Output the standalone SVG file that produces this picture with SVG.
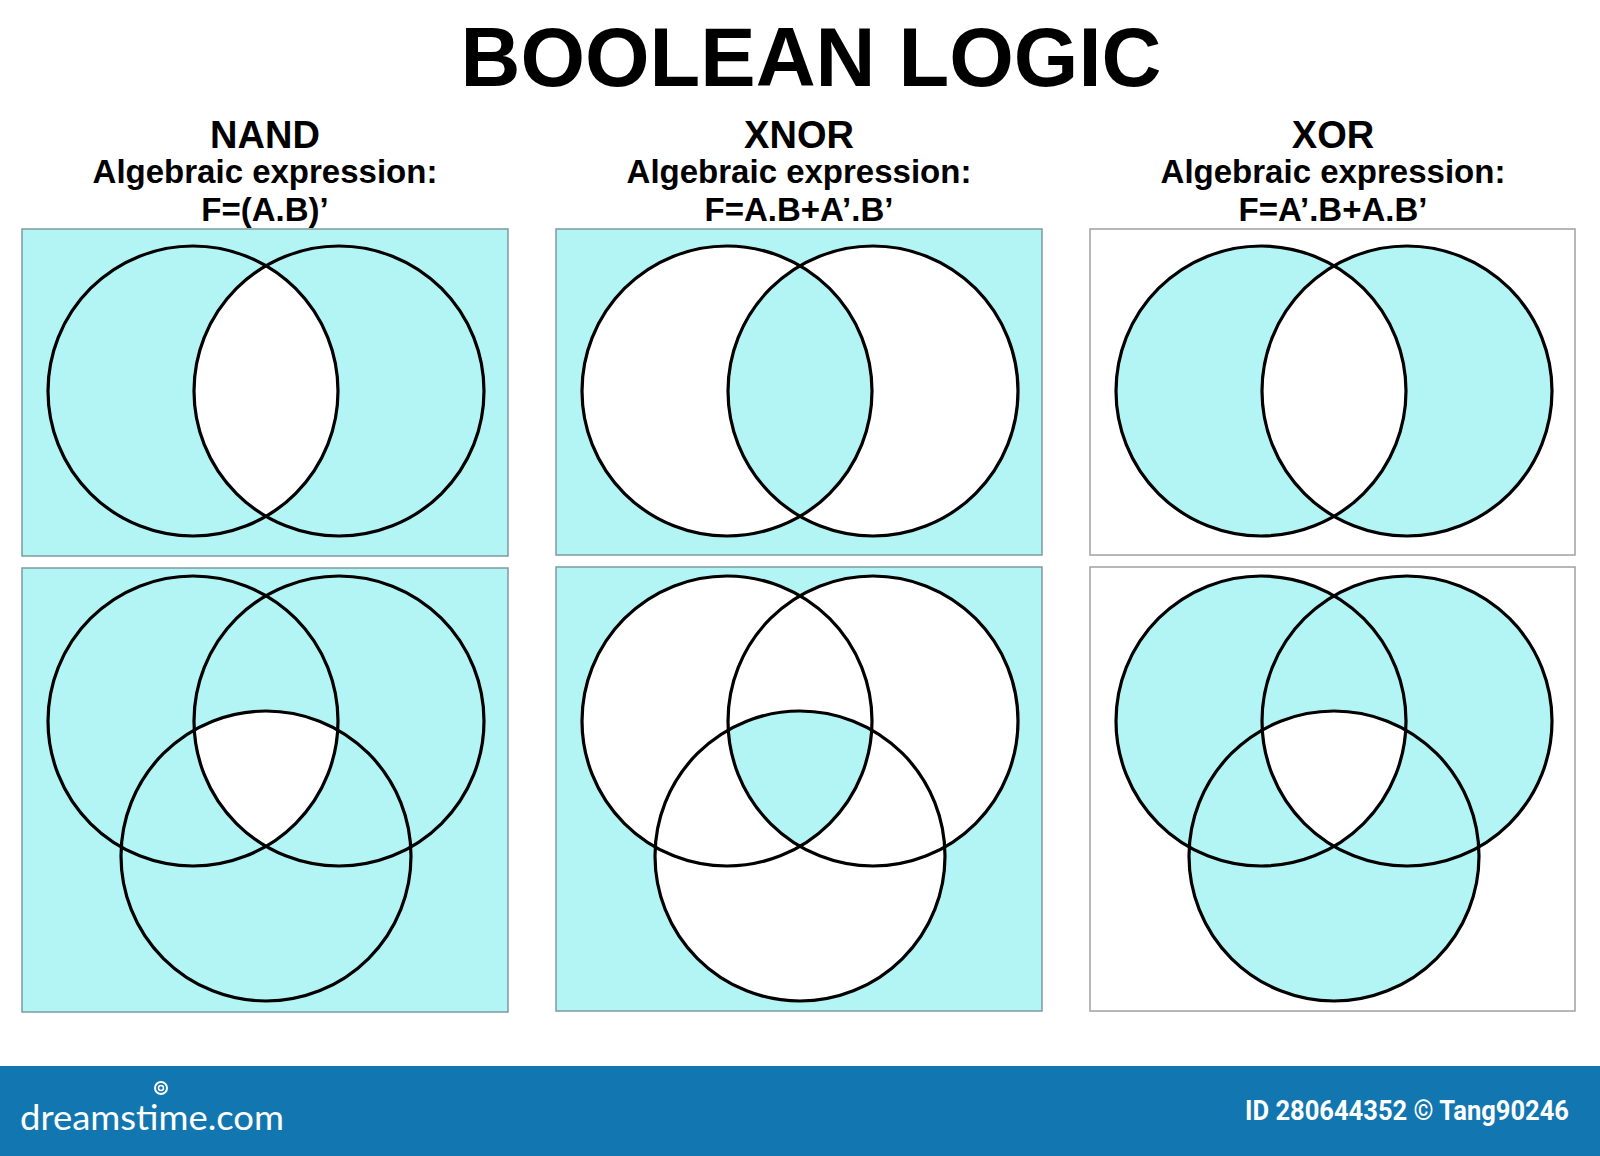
<svg xmlns="http://www.w3.org/2000/svg" width="1600" height="1156" viewBox="0 0 1600 1156">
<style>
.t{font-family:"Liberation Sans",Arial,sans-serif;font-weight:bold;fill:#000;text-anchor:middle}
.h1{font-size:83px}
.h2{font-size:38px}
.h3{font-size:33px}
.pc{fill:#b3f4f4;stroke:#7c9aa0;stroke-width:1.5}
.pw{fill:#fff;stroke:#a0a0a0;stroke-width:1.5}
.c{fill:#b3f4f4}
.w{fill:#fff}
.o{fill:none;stroke:#000;stroke-width:3.2}
</style>
<defs>
<clipPath id="n2a"><circle cx="193" cy="391" r="145"/></clipPath>
<clipPath id="n3a"><circle cx="193" cy="721" r="145"/></clipPath>
<clipPath id="n3b"><circle cx="339" cy="721" r="145"/></clipPath>
<clipPath id="x2a"><circle cx="727" cy="391" r="145"/></clipPath>
<clipPath id="x3a"><circle cx="727" cy="721" r="145"/></clipPath>
<clipPath id="x3b"><circle cx="873" cy="721" r="145"/></clipPath>
<clipPath id="o2a"><circle cx="1261" cy="391" r="145"/></clipPath>
<clipPath id="o3a"><circle cx="1261" cy="721" r="145"/></clipPath>
<clipPath id="o3b"><circle cx="1407" cy="721" r="145"/></clipPath>
</defs>
<rect width="1600" height="1156" fill="#fff"/>
<text class="t h1" x="811" y="86">BOOLEAN LOGIC</text>

<g id="nand">
<text class="t h2" x="265" y="148">NAND</text>
<text class="t h3" x="265" y="183">Algebraic expression:</text>
<text class="t h3" x="265" y="221">F=(A.B)’</text>
<g id="nand-2">
<rect class="pc" x="22" y="229" width="486" height="327"/>
<circle class="w" cx="339" cy="391" r="145" clip-path="url(#n2a)"/>
<circle class="o" cx="193" cy="391" r="145"/>
<circle class="o" cx="339" cy="391" r="145"/>
</g>
<g id="nand-3">
<rect class="pc" x="22" y="568" width="486" height="444"/>
<g clip-path="url(#n3a)"><g clip-path="url(#n3b)"><circle class="w" cx="266" cy="856" r="145"/></g></g>
<circle class="o" cx="193" cy="721" r="145"/>
<circle class="o" cx="339" cy="721" r="145"/>
<circle class="o" cx="266" cy="856" r="145"/>
</g>
</g>

<g id="xnor">
<text class="t h2" x="799" y="148">XNOR</text>
<text class="t h3" x="799" y="183">Algebraic expression:</text>
<text class="t h3" x="799" y="221">F=A.B+A’.B’</text>
<g id="xnor-2">
<rect class="pc" x="556" y="229" width="486" height="326"/>
<circle class="w" cx="727" cy="391" r="145"/>
<circle class="w" cx="873" cy="391" r="145"/>
<circle class="c" cx="873" cy="391" r="145" clip-path="url(#x2a)"/>
<circle class="o" cx="727" cy="391" r="145"/>
<circle class="o" cx="873" cy="391" r="145"/>
</g>
<g id="xnor-3">
<rect class="pc" x="556" y="567" width="486" height="444"/>
<circle class="w" cx="727" cy="721" r="145"/>
<circle class="w" cx="873" cy="721" r="145"/>
<circle class="w" cx="800" cy="856" r="145"/>
<g clip-path="url(#x3a)"><g clip-path="url(#x3b)"><circle class="c" cx="800" cy="856" r="145"/></g></g>
<circle class="o" cx="727" cy="721" r="145"/>
<circle class="o" cx="873" cy="721" r="145"/>
<circle class="o" cx="800" cy="856" r="145"/>
</g>
</g>

<g id="xor">
<text class="t h2" x="1333" y="148">XOR</text>
<text class="t h3" x="1333" y="183">Algebraic expression:</text>
<text class="t h3" x="1333" y="221">F=A’.B+A.B’</text>
<g id="xor-2">
<rect class="pw" x="1090" y="229" width="485" height="326"/>
<circle class="c" cx="1261" cy="391" r="145"/>
<circle class="c" cx="1407" cy="391" r="145"/>
<circle class="w" cx="1407" cy="391" r="145" clip-path="url(#o2a)"/>
<circle class="o" cx="1261" cy="391" r="145"/>
<circle class="o" cx="1407" cy="391" r="145"/>
</g>
<g id="xor-3">
<rect class="pw" x="1090" y="567" width="485" height="444"/>
<circle class="c" cx="1261" cy="721" r="145"/>
<circle class="c" cx="1407" cy="721" r="145"/>
<circle class="c" cx="1334" cy="856" r="145"/>
<g clip-path="url(#o3a)"><g clip-path="url(#o3b)"><circle class="w" cx="1334" cy="856" r="145"/></g></g>
<circle class="o" cx="1261" cy="721" r="145"/>
<circle class="o" cx="1407" cy="721" r="145"/>
<circle class="o" cx="1334" cy="856" r="145"/>
</g>
</g>

<g id="footer">
<rect x="0" y="1066" width="1600" height="90" fill="#1277b0"/>
<text x="20" y="1130" font-family="Lato,'Noto Sans',sans-serif" font-size="35" fill="#fff" textLength="264" lengthAdjust="spacingAndGlyphs">dreamstime.com</text>
<circle cx="161" cy="1088" r="6" fill="none" stroke="#fff" stroke-width="2"/>
<circle cx="161" cy="1088" r="2.5" fill="none" stroke="#fff" stroke-width="1.5"/>
<text x="1569" y="1120" font-family="Roboto,'Liberation Sans',sans-serif" font-weight="bold" font-size="27" fill="#fff" text-anchor="end" textLength="324" lengthAdjust="spacingAndGlyphs">ID 280644352 © Tang90246</text>
</g>
</svg>
